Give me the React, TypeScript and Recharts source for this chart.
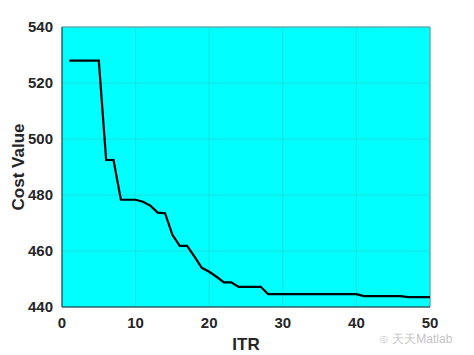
import { LineChart, Line, XAxis, YAxis, CartesianGrid, ReferenceLine } from "recharts";

const iterations = [
  1, 2, 3, 4, 5, 6, 7, 8, 9, 10,
  11, 12, 13, 14, 15, 16, 17, 18, 19, 20,
  21, 22, 23, 24, 25, 26, 27, 28, 29, 30,
  31, 32, 33, 34, 35, 36, 37, 38, 39, 40,
  41, 42, 43, 44, 45, 46, 47, 48, 49, 50,
];

const costValues = [
  528, 528, 528, 528, 528, 492.5, 492.5, 478.3, 478.3, 478.3,
  477.6, 476.2, 473.7, 473.5, 465.8, 461.8, 461.8, 458, 454, 452.6,
  450.8, 448.8, 448.8, 447.2, 447.2, 447.2, 447.2, 444.6, 444.6, 444.6,
  444.6, 444.6, 444.6, 444.6, 444.6, 444.6, 444.6, 444.6, 444.6, 444.6,
  443.9, 443.9, 443.9, 443.9, 443.9, 443.9, 443.5, 443.5, 443.5, 443.5,
];

const xTicks = [0, 10, 20, 30, 40, 50];
const yTicks = [440, 460, 480, 500, 520, 540];

const data = iterations.map((itr, i) => ({ itr, cost: costValues[i] }));

const axisColor = "#262626";
const font = "Liberation Sans, Arial, sans-serif";
const tickStyle = { fill: axisColor, fontSize: 15, fontWeight: 700, fontFamily: font };

export default function App() {
  return (
    <div style={{ position: "absolute", left: 0, top: 0, width: 474, height: 355, background: "#fff" }}>
      <LineChart width={474} height={355} data={data} margin={{ top: 27, right: 44, bottom: 0, left: 0 }}>
        <CartesianGrid fill="#00ffff" stroke="#1ed8d8" strokeWidth={0.8} ticks={xTicks} />
        <XAxis
          dataKey="itr"
          type="number"
          domain={[0, 50]}
          ticks={xTicks}
          height={48}
          stroke={axisColor}
          tickLine={false}
          tickMargin={4}
          tick={tickStyle}
          label={{
            value: "ITR",
            position: "insideBottom",
            offset: 5,
            style: { fill: axisColor, fontSize: 17, fontWeight: 700, fontFamily: font },
          }}
        />
        <YAxis
          type="number"
          domain={[440, 540]}
          ticks={yTicks}
          width={62}
          stroke={axisColor}
          tickLine={false}
          tickMargin={3}
          tick={tickStyle}
          label={{
            value: "Cost Value",
            angle: -90,
            position: "insideLeft",
            offset: 18,
            style: { textAnchor: "middle", fill: axisColor, fontSize: 17, fontWeight: 700, fontFamily: font },
          }}
        />
        <ReferenceLine y={540} stroke="#7a9a9a" strokeWidth={1} />
        <ReferenceLine x={50} stroke="#7a9a9a" strokeWidth={1} />
        <Line
          type="linear"
          dataKey="cost"
          stroke="#000"
          strokeWidth={2.2}
          dot={false}
          isAnimationActive={false}
        />
      </LineChart>
      <div
        style={{
          position: "absolute",
          left: 379,
          top: 331,
          fontSize: 12,
          color: "#c4c4c4",
          fontFamily: font,
          whiteSpace: "nowrap",
        }}
      >
        ⊙ 天天Matlab
      </div>
    </div>
  );
}
